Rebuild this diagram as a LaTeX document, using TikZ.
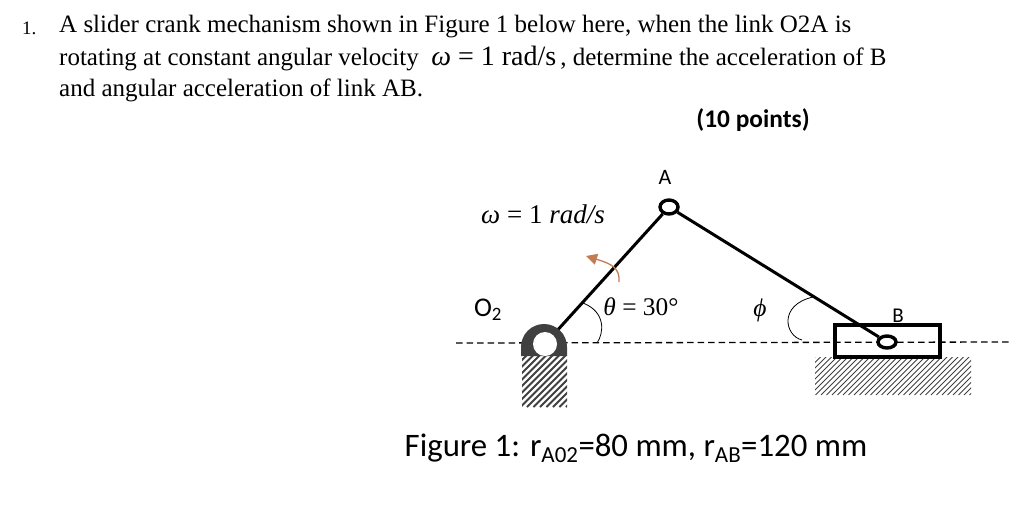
\documentclass[tikz,border=0pt]{standalone}
\usepackage{fontspec}
\setmainfont{Liberation Serif}
\newfontfamily\calfont{Carlito}
\usetikzlibrary{shapes.geometric,arrows.meta}
\definecolor{darkpiv}{HTML}{404040}
\definecolor{arrowc}{HTML}{C27B52}
\tikzset{
  body/.style={anchor=west,inner sep=0pt,font=\fontsize{25}{28}\selectfont},
  lab/.style={inner sep=0pt,font=\calfont\fontsize{21}{24}\selectfont},
  mathlab/.style={inner sep=0pt,font=\fontsize{25.4}{28}\selectfont},
  pin/.style={ellipse,draw=black,fill=white,line width=3.4pt,inner sep=0pt},
  link/.style={line width=3pt,black},
  axis/.style={line width=1.3pt,dash pattern=on 6.5pt off 4pt},
  thinarc/.style={line width=0.8pt,black},
  hatchheavy/.style={line width=2pt,black!75},
  hatchlight/.style={line width=1pt,black!75},
}
% args: x1,y1,x2,y2,line style,second step value
\newcommand{\hatchbox}[6]{%
  \begin{scope}
    \clip (#1,#2) rectangle (#3,#4);
    \foreach \i in {0,#6,...,260}{
      \draw[#5] (#1+\i-60,#4) -- ++(60,-60);
    }
  \end{scope}}
\begin{document}
\begin{tikzpicture}[x=1pt,y=-1pt]
\useasboundingbox (0,0) rectangle (1024,507);
\node[body,font=\fontsize{19}{22}\selectfont] (num) at (22,28) {1.};
\node[body] (l1) at (59,27) {A slider crank mechanism shown in Figure 1 below here, when the link O2A is};
\node[body] (l2) at (59,58) {rotating at constant angular velocity \ {\fontsize{28}{28}\selectfont{\itshape ω} = 1 rad/s}\kern4pt, determine the acceleration of B};
\node[body] (l3) at (59,90) {and angular acceleration of link AB.};
\node[lab,font=\calfont\bfseries\fontsize{25.4}{28}\selectfont] (pts) at (753,120) {(10 points)};

% axis
\coordinate (axl) at (456,343);
\coordinate (axr) at (1011,342);
\draw[axis] (axl) -- (axr);

% hatching
\hatchbox{522}{356}{567}{407}{hatchheavy}{6.5}
\hatchbox{815}{357}{971}{395}{hatchlight}{5.5}

% slider
\node[draw=black,line width=3.2pt,minimum width=105pt,minimum height=32pt,inner sep=0pt] (slider) at (887.5,341) {};

% pivot
\node[circle,fill=white,minimum size=24pt,inner sep=0pt] (O) at (545,344) {};
\node[pin,minimum width=18pt,minimum height=14pt] (A) at (669,207) {};
\node[pin,minimum width=18pt,minimum height=12pt] (B) at (887,342) {};

\draw[link] (O) -- (A);
\draw[link] (A) -- (B);
\fill[darkpiv] (521,356) -- (521,347) arc[start angle=180,end angle=360,radius=23] -- (567,356) -- cycle;
\node[circle,fill=white,minimum size=24pt,inner sep=0pt] at (545,344) {};

% arcs
\draw[thinarc] (597,343) .. controls (604,333) and (606,312) .. (583,303);
\draw[thinarc] (802,340) .. controls (785,336) and (778,305) .. (813,297);
\draw[arrowc,line width=1.3pt,-{Triangle[length=11pt,width=11pt]}] (619,282) .. controls (620,268) and (612,264) .. (586,256);

% labels
\node[lab,font=\calfont\fontsize{22}{24}\selectfont] (lA) at (665,177) {A};
\node[lab] (lB) at (898,316) {B};
\node[lab,font=\calfont\fontsize{27}{30}\selectfont] (lO) at (488,310) {O\textsubscript{2}};
\node[mathlab,font=\fontsize{27}{30}\selectfont] (lw) at (543,214) {{\itshape ω} = 1 {\itshape rad/s}};
\node[mathlab] (lt) at (641,307) {{\itshape θ} = 30°};
\node[mathlab] (lp) at (760,310) {{\itshape ϕ}};
\node[lab,font=\calfont\fontsize{32.8}{36}\selectfont] (cap) at (636,448) {Figure 1: r\textsubscript{A02}=80 mm, r\textsubscript{AB}=120 mm};
\end{tikzpicture}
\end{document}
